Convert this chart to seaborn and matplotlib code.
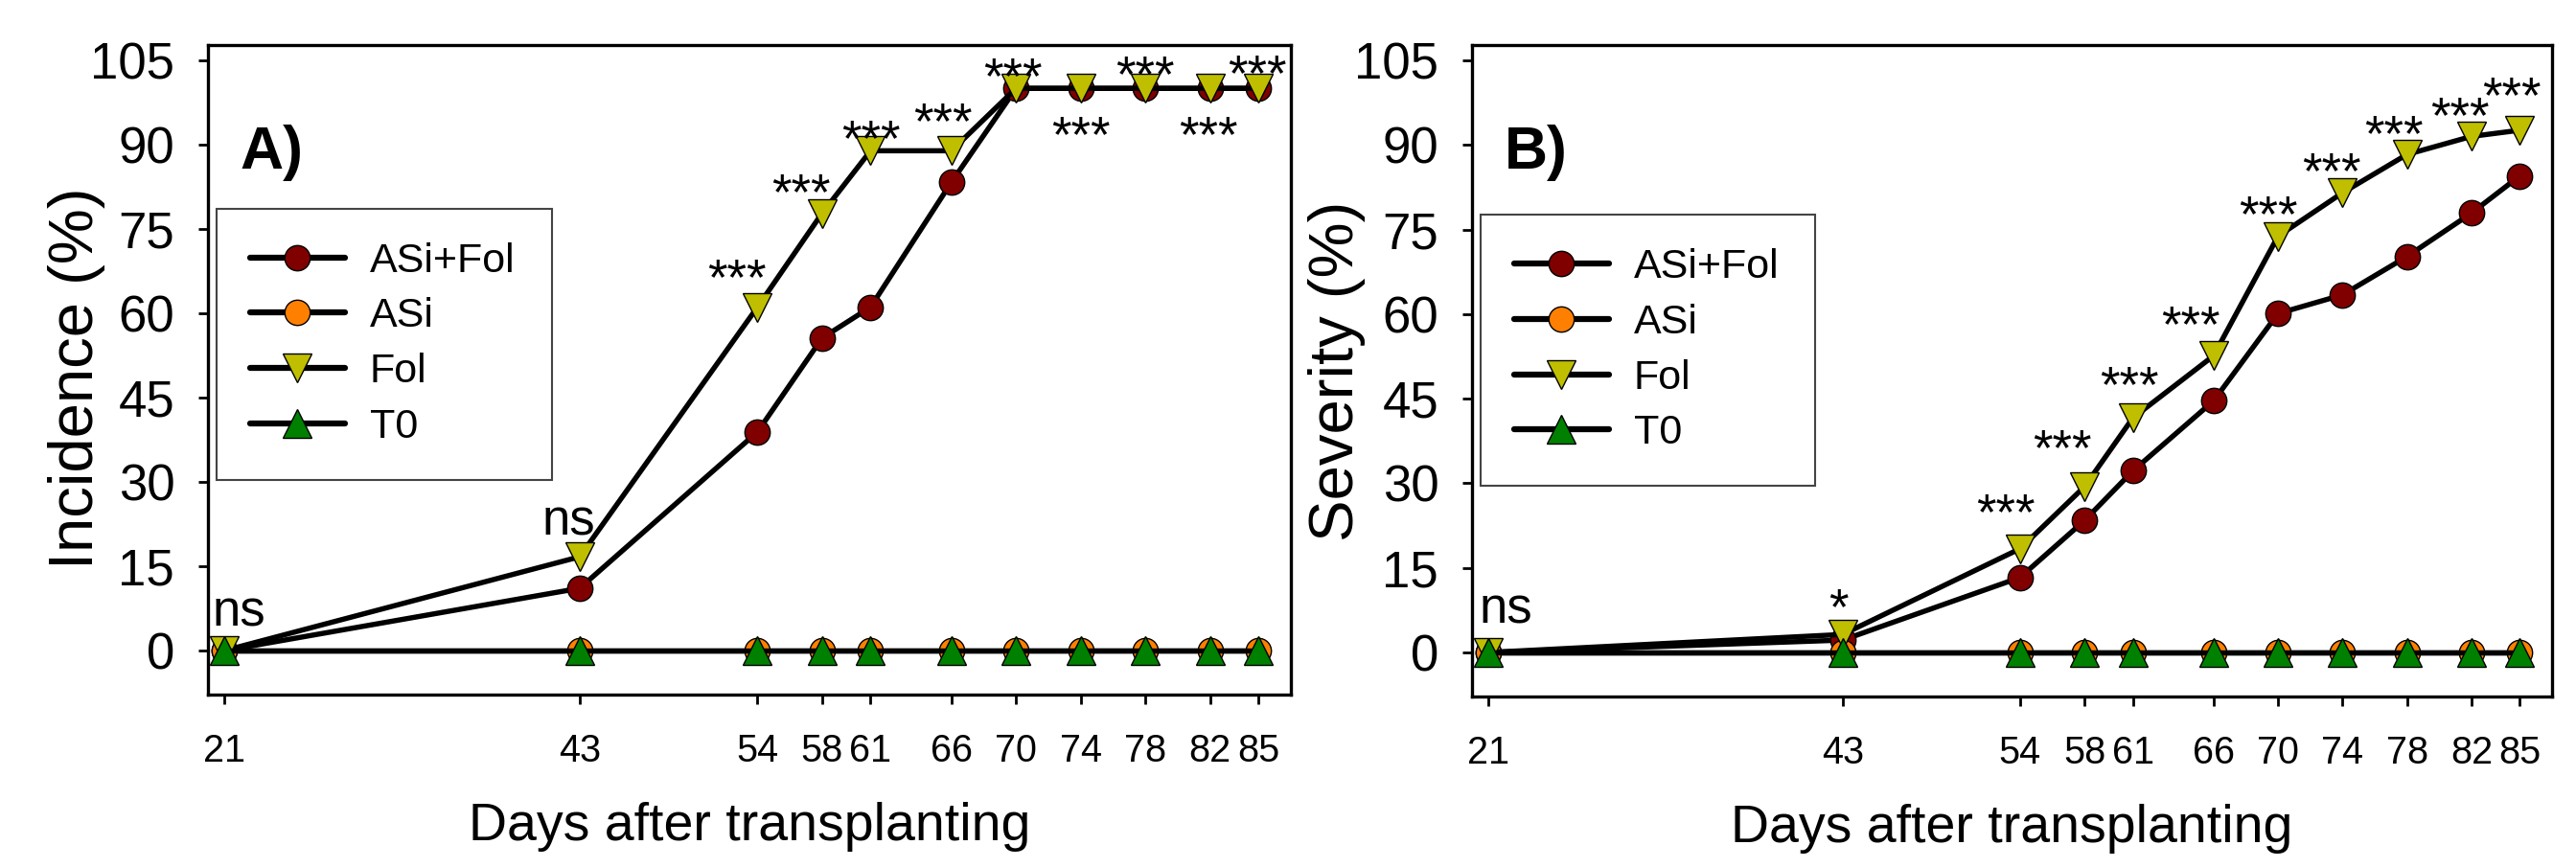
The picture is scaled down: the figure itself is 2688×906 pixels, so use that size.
# %% Requirements and constants
import matplotlib
matplotlib.use("Agg")
import matplotlib.pyplot as plt
import seaborn as sns
import pandas as pd

days = [21, 43, 54, 58, 61, 66, 70, 74, 78, 82, 85]
treatments = ["ASi+Fol", "ASi", "Fol", "T0"]

# Incidence (%)
inc_asi_fol = [0, 11.1, 38.9, 55.6, 61.1, 83.3, 100, 100, 100, 100, 100]
inc_asi = [0, 0, 0, 0, 0, 0, 0, 0, 0, 0, 0]
inc_fol = [0, 16.7, 61.1, 77.8, 88.9, 88.9, 100, 100, 100, 100, 100]
inc_t0 = [0, 0, 0, 0, 0, 0, 0, 0, 0, 0, 0]

# Severity (%)
sev_asi_fol = [0, 2.2, 13.3, 23.4, 32.2, 44.6, 60.1, 63.4, 70.2, 77.9, 84.5]
sev_asi = [0, 0, 0, 0, 0, 0, 0, 0, 0, 0, 0]
sev_fol = [0, 3.2, 18.4, 29.4, 41.6, 52.6, 73.8, 81.5, 88.3, 91.5, 92.6]
sev_t0 = [0, 0, 0, 0, 0, 0, 0, 0, 0, 0, 0]

# significance labels (x, y = visual centre of the text)
inc_sig = ["ns", "ns", "***", "***", "***", "***", "***", "***", "***", "***", "***"]
inc_sig_x = [21.9, 42.3, 52.7, 56.7, 61.0, 65.5, 69.8, 74.0, 78.0, 81.9, 84.9]
inc_sig_y = [6.8, 23.0, 67.6, 82.8, 92.4, 95.5, 103.5, 93.0, 103.7, 93.0, 103.9]

sev_sig = ["ns", "*", "***", "***", "***", "***", "***", "***", "***", "***", "***"]
sev_sig_x = [22.1, 42.75, 53.1, 56.6, 60.8, 64.6, 69.4, 73.3, 77.2, 81.3, 84.5]
sev_sig_y = [7.6, 9.4, 26.1, 37.6, 48.7, 59.5, 79.0, 86.7, 93.2, 96.4, 100.0]

yticks = [0, 15, 30, 45, 60, 75, 90, 105]

colors = {"ASi+Fol": "#800000", "ASi": "#FF8000", "Fol": "#BFBF00", "T0": "#008000"}
markers = {"ASi+Fol": "o", "ASi": "o", "Fol": "v", "T0": "^"}

sns.set_style("ticks")
plt.rcParams["font.family"] = ["Liberation Sans", "DejaVu Sans"]
plt.rcParams["text.color"] = "black"
plt.rcParams["axes.labelcolor"] = "black"
plt.rcParams["xtick.color"] = "black"
plt.rcParams["ytick.color"] = "black"


# %% Function
def draw_panel(ax, series, sig, sig_x, sig_y, ylabel, letter, ylab_x, ylab_y, leg_box):
    for name, vals in zip(treatments, series):
        df = pd.DataFrame(dict(day=days, value=vals))
        sns.lineplot(data=df, x="day", y="value", ax=ax, color="black", lw=3.9,
                     marker=markers[name], markersize=19 if markers[name] == "o" else 21,
                     markerfacecolor=colors[name], markeredgecolor="black",
                     markeredgewidth=1.0, label=name, estimator=None)

    for s, x, y in zip(sig, sig_x, sig_y):
        off = -10 if s == "ns" else -18
        ax.annotate(s, (x, y), xytext=(0, off), textcoords="offset points",
                    ha="center", va="baseline", fontsize=38)

    ax.set_xlim(20, 87)
    ax.set_ylim(-7.8, 107.7)
    ax.set_xticks(days)
    ax.set_xticklabels([str(d) for d in days])
    ax.set_yticks(yticks)
    ax.tick_params(axis="both", direction="out", length=7, width=2)
    ax.tick_params(axis="x", pad=22, labelsize=28.5)
    ax.tick_params(axis="y", pad=18, labelsize=38)
    for sp in ax.spines.values():
        sp.set_linewidth(2.4)
        sp.set_color("black")

    ax.set_xlabel("Days after transplanting", fontsize=40)
    ax.xaxis.set_label_coords(0.5, -0.165)
    ax.set_ylabel(ylabel, fontsize=47)
    ax.yaxis.set_label_coords(ylab_x, ylab_y)

    ax.text(0.03, 0.81, letter, transform=ax.transAxes, fontsize=45,
            fontweight="bold", ha="left", va="baseline")

    leg = ax.legend(loc="upper left", bbox_to_anchor=leg_box, mode="expand",
                    borderaxespad=0, fontsize=31, frameon=True, fancybox=False,
                    framealpha=1, edgecolor="#444444", handlelength=2.3,
                    handletextpad=0.6, labelspacing=0.41, borderpad=0.81)
    leg.get_frame().set_linewidth(1.5)
    for h in leg.legend_handles:
        h.set_linewidth(4.5)


# %% Play ground
fig = plt.figure(figsize=(26.88, 9.06), dpi=100)
ax1 = fig.add_axes([0.0807, 0.1998, 0.4204, 0.7483])
ax2 = fig.add_axes([0.5714, 0.1976, 0.4193, 0.7505])

draw_panel(ax1, [inc_asi_fol, inc_asi, inc_fol, inc_t0], inc_sig, inc_sig_x, inc_sig_y,
           "Incidence (%)", "A)", -0.095, 0.487, (0.008, 0.332, 0.31, 0.416))
draw_panel(ax2, [sev_asi_fol, sev_asi, sev_fol, sev_t0], sev_sig, sev_sig_x, sev_sig_y,
           "Severity (%)", "B)", -0.0985, 0.5, (0.008, 0.323, 0.31, 0.416))

fig.savefig("out.png", dpi=100)
